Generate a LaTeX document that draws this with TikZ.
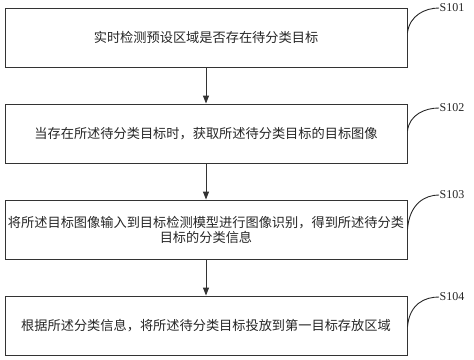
\documentclass[tikz,border=0pt]{standalone}
\usepackage{fontspec}
\setmainfont{Liberation Serif}
\newfontfamily\cjk{Noto Sans CJK SC}
\usetikzlibrary{arrows.meta}
\begin{document}
\begin{tikzpicture}[x=1pt,y=1pt,
  stepbox/.style={draw=black!80, line width=0.9pt, minimum width=402pt, minimum height=59pt, inner sep=0pt, align=center, font=\cjk\fontsize{13.2}{15}\selectfont, text=black!85},
  steplabel/.style={anchor=west, inner sep=0.5pt, font=\fontsize{12}{14}\selectfont, text=black!85},
  flow/.style={draw=black!80, line width=0.9pt, -{Triangle[length=8pt,width=6pt]}},
  lead/.style={draw=black!85, line width=0.9pt}]
\useasboundingbox (0,0) rectangle (474,-359);
\node[stepbox] (b1) at (206,-37.5) {实时检测预设区域是否存在待分类目标};
\node[stepbox] (b2) at (206,-133.5) {当存在所述待分类目标时，获取所述待分类目标的目标图像};
\node[stepbox] (b3) at (206,-229.5) {将所述目标图像输入到目标检测模型进行图像识别，得到所述待分类\\目标的分类信息};
\node[stepbox] (b4) at (206,-325.5) {根据所述分类信息，将所述待分类目标投放到第一目标存放区域};
\node[steplabel] (s1) at (439,-8) {S101};
\node[steplabel] (s2) at (439,-108) {S102};
\node[steplabel] (s3) at (439,-195) {S103};
\node[steplabel] (s4) at (439,-297) {S104};
\draw[flow] (b1) -- (b2);
\draw[flow] (b2) -- (b3);
\draw[flow] (b3) -- (b4);
\draw[lead] ([yshift=4.5pt]b1.east) .. controls ([xshift=2pt,yshift=22pt]b1.east) and ([xshift=-14pt]s1.west) .. (s1.west);
\draw[lead] ([yshift=2.5pt]b2.east) .. controls ([xshift=2pt,yshift=19pt]b2.east) and ([xshift=-14pt]s2.west) .. (s2.west);
\draw[lead] ([yshift=0pt]b3.east) .. controls ([xshift=2pt,yshift=26pt]b3.east) and ([xshift=-14pt]s3.west) .. (s3.west);
\draw[lead] ([yshift=-1.5pt]b4.east) .. controls ([xshift=2pt,yshift=22pt]b4.east) and ([xshift=-14pt]s4.west) .. (s4.west);
\end{tikzpicture}
\end{document}
